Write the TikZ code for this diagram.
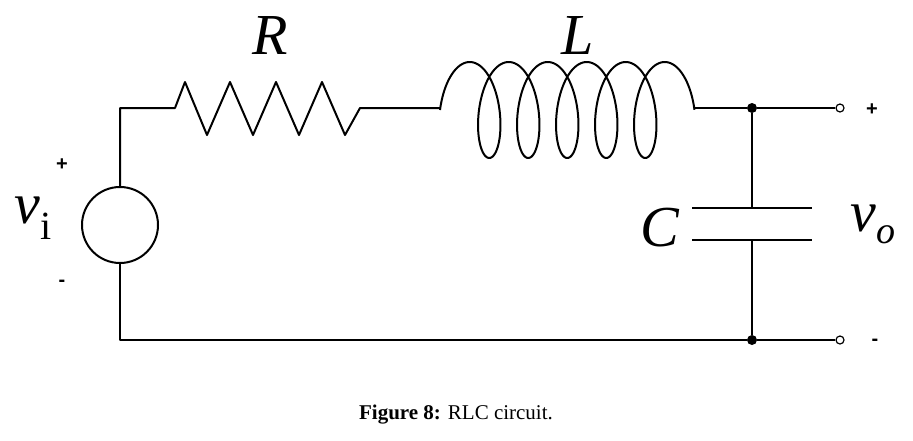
\documentclass[tikz,border=0pt]{standalone}
\usepackage{fontspec}
\setmainfont{Liberation Serif}
\newfontfamily\sansf{Liberation Sans}
\begin{document}
\begin{tikzpicture}[x=1pt,y=-1pt,
  wire/.style={line width=2pt,line join=round},
  lbl/.style={font=\itshape\fontsize{58}{58}\selectfont,inner sep=0pt},
  sgn/.style={font=\sansf\bfseries\fontsize{20}{20}\selectfont,inner sep=0pt},
  dot/.style={circle,fill=black,inner sep=0pt,minimum size=10pt},
  term/.style={circle,draw,line width=1.2pt,fill=white,inner sep=0pt,minimum size=8pt}]
\useasboundingbox (0,0) rectangle (913,440);
\node[circle,draw,line width=2pt,minimum size=76pt,inner sep=0pt] (src) at (120,225) {};
\coordinate (tl) at (120,108);
\coordinate (bl) at (120,340);
\coordinate (r1) at (175,108);
\coordinate (r2) at (360,108);
\coordinate (l1) at (440,108);
\coordinate (l2) at (694,108);
\node[dot] (nt) at (752,108) {};
\node[dot] (nb) at (752,340) {};
\node[term] (tt) at (840,108) {};
\node[term] (tb) at (840,340) {};
\coordinate (c1) at (752,208);
\coordinate (c2) at (752,240);
\draw[wire] (src.north) -- (tl) -- (r1) -- (185,82) -- (207,135) -- (230,82) -- (253,135) -- (276,82) -- (299,135) -- (322,82) -- (345,135) -- (r2) -- (l1);
\draw[wire,domain=0:34.5575,samples=500,smooth,variable=\t] plot ({460+39*\t/(2*pi)-20*cos(\t r)},{110-48*sin(\t r)});
\draw[wire] (l2) -- (nt) -- (tt);
\draw[wire] (nt) -- (c1);
\draw[wire] (692,208) -- (812,208);
\draw[wire] (692,240) -- (812,240);
\draw[wire] (c2) -- (nb);
\draw[wire] (src.south) -- (bl) -- (nb) -- (tb);
\node[lbl] (lr) at (270,36) {R};
\node[lbl] (ll) at (578,36) {L};
\node[lbl] (lc) at (660,228) {C};
\node[lbl] (lvi) at (33,218) {v\raisebox{-16pt}{\upshape\fontsize{40}{40}\selectfont i}};
\node[lbl] (lvo) at (873,224) {v\raisebox{-12pt}{\fontsize{38}{38}\selectfont o}};
\node[sgn] (p1) at (62,165) {+};
\node[sgn] (m1) at (62,283) {-};
\node[sgn] (p2) at (872,110) {+};
\node[sgn] (m2) at (875,342) {-};
\node[font=\fontsize{21}{21}\selectfont] (cap) at (456,415) {\textbf{Figure 8:} RLC circuit.};
\end{tikzpicture}
\end{document}
